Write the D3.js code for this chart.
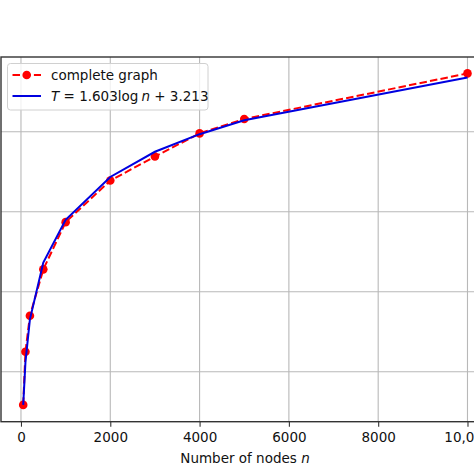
<!DOCTYPE html>
<html>
<head>
<meta charset="utf-8">
<script src="https://cdn.jsdelivr.net/npm/d3@7"></script>
<style>
  html, body { margin: 0; padding: 0; background: #fff; }
  svg { display: block; font-family: "DejaVu Sans", sans-serif; }
</style>
</head>
<body>
<div id="chart"></div>
<script>
// values
const nodes = [50, 100, 200, 500, 1000, 2000, 3000, 4000, 5000, 10000];
const completeGraph = [9.17, 10.5, 11.4, 12.56, 13.74, 14.78, 15.38, 15.96, 16.32, 17.46];
const fitLine = [9.17, 10.24, 11.31, 12.73, 13.8, 14.87, 15.5, 15.94, 16.29, 17.36];
const xTicks = [0, 2000, 4000, 6000, 8000, 10000];
const xTickLabels = ["0", "2000", "4000", "6000", "8000", "10,000"];
const yTicks = [10, 12, 14, 16];

(function () {
  const W = 474, H = 474;
  const margin = { top: 57, right: -15.7, bottom: 52.3, left: 1 },
    width = W - margin.left - margin.right,
    height = H - margin.top - margin.bottom;

  const svg = d3
    .select("#chart")
    .append("svg")
    .attr("width", W)
    .attr("height", H);

  const g = svg
    .append("g")
    .attr("transform", `translate(${margin.left},${margin.top})`);

  const x = d3.scaleLinear().domain([-447.5, 10497.5]).range([0, width]);
  const y = d3.scaleLinear().domain([8.75, 17.87]).range([height, 0]);

  // grid
  g.selectAll(".xgrid")
    .data(xTicks)
    .join("line")
    .attr("x1", (d) => x(d))
    .attr("x2", (d) => x(d))
    .attr("y1", 0)
    .attr("y2", height)
    .attr("stroke", "#b8b8b8")
    .attr("stroke-width", 1.1);

  g.selectAll(".ygrid")
    .data(yTicks)
    .join("line")
    .attr("x1", 0)
    .attr("x2", width)
    .attr("y1", (d) => y(d))
    .attr("y2", (d) => y(d))
    .attr("stroke", "#b8b8b8")
    .attr("stroke-width", 1.1);

  // x axis
  const xAxis = g
    .append("g")
    .attr("transform", `translate(0,${height})`)
    .call(
      d3
        .axisBottom(x)
        .tickValues(xTicks)
        .tickFormat((d, i) => xTickLabels[i])
        .tickSize(5)
        .tickSizeOuter(0)
        .tickPadding(6)
    );
  xAxis.select(".domain").remove();
  xAxis.selectAll(".tick line").attr("stroke", "#333").attr("stroke-width", 1.1);
  xAxis
    .selectAll(".tick text")
    .attr("font-size", "13.5px")
    .attr("font-family", "DejaVu Sans")
    .attr("fill", "#111");

  // spines
  g.append("rect")
    .attr("x", 0)
    .attr("y", 0)
    .attr("width", width)
    .attr("height", height)
    .attr("fill", "none")
    .attr("stroke", "#333")
    .attr("stroke-width", 1.4);

  // complete graph (red dashed + markers)
  const line = d3
    .line()
    .x((d, i) => x(nodes[i]))
    .y((d) => y(d));

  g.append("path")
    .datum(completeGraph)
    .attr("d", line)
    .attr("fill", "none")
    .attr("stroke", "#ff0000")
    .attr("stroke-width", 2)
    .attr("stroke-dasharray", "7.5,3.2");

  g.selectAll(".dot")
    .data(completeGraph)
    .join("circle")
    .attr("class", "dot")
    .attr("cx", (d, i) => x(nodes[i]))
    .attr("cy", (d) => y(d))
    .attr("r", 4.3)
    .attr("fill", "#ff0000");

  // fit line
  g.append("path")
    .datum(fitLine)
    .attr("d", line)
    .attr("fill", "none")
    .attr("stroke", "#0000e0")
    .attr("stroke-width", 2);

  // x label
  const xl = svg
    .append("text")
    .attr("x", 245)
    .attr("y", 462.5)
    .attr("text-anchor", "middle")
    .attr("font-size", "13.5px")
    .attr("fill", "#111");
  xl.append("tspan").text("Number of nodes ");
  xl.append("tspan").attr("font-style", "italic").text("n");

  // legend
  const lg = svg.append("g").attr("transform", "translate(7.5,63.5)");
  lg.append("rect")
    .attr("width", 200.5)
    .attr("height", 46.5)
    .attr("rx", 3)
    .attr("fill", "#fff")
    .attr("fill-opacity", 0.8)
    .attr("stroke", "#d0d0d0")
    .attr("stroke-width", 1);

  lg.append("line")
    .attr("x1", 5)
    .attr("x2", 33.5)
    .attr("y1", 11.5)
    .attr("y2", 11.5)
    .attr("stroke", "#ff0000")
    .attr("stroke-width", 2)
    .attr("stroke-dasharray", "7.5,3.2");
  lg.append("circle")
    .attr("cx", 19.2)
    .attr("cy", 11.5)
    .attr("r", 4.3)
    .attr("fill", "#ff0000");
  lg.append("text")
    .attr("x", 43.5)
    .attr("y", 16.3)
    .attr("font-size", "13.5px")
    .attr("fill", "#111")
    .text("complete graph");

  lg.append("line")
    .attr("x1", 5)
    .attr("x2", 33.5)
    .attr("y1", 32.5)
    .attr("y2", 32.5)
    .attr("stroke", "#0000e0")
    .attr("stroke-width", 2);
  const eq = lg
    .append("text")
    .attr("x", 43.5)
    .attr("y", 37.3)
    .attr("font-size", "13.5px")
    .attr("fill", "#111");
  eq.append("tspan").attr("font-style", "italic").text("T");
  eq.append("tspan").text(" = 1.603log");
  eq.append("tspan").attr("font-style", "italic").attr("dx", 3).text("n");
  eq.append("tspan").text(" + 3.213");
})();
</script>
</body>
</html>
